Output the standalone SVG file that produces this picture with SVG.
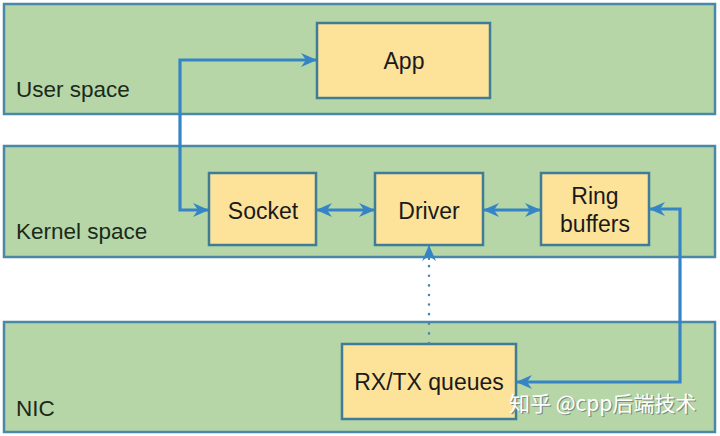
<svg xmlns="http://www.w3.org/2000/svg" width="720" height="436" viewBox="0 0 720 436">
<defs>
<style>
.band{fill:#b6d6a8;stroke:#4b88a6;stroke-width:2.5}
.box{fill:#fde29a;stroke:#3f7d96;stroke-width:2.5}
.lbl{font-family:"Liberation Sans",Arial,sans-serif;font-size:22.5px;fill:#1a2a1a}
.txt{font-family:"Liberation Sans",Arial,sans-serif;font-size:23px;fill:#1a1a1a;text-anchor:middle}
.con{fill:none;stroke:#3585c6;stroke-width:3.2}
.dot{fill:none;stroke:#4a88a8;stroke-width:2.5;stroke-dasharray:0.1 9.5;stroke-linecap:round}
.wm{font-family:"Noto Sans CJK SC","Liberation Sans",sans-serif;font-size:21px;fill:#ffffff}
</style>
<marker id="ah" viewBox="0 0 16 14" refX="15" refY="7" markerWidth="16" markerHeight="14" markerUnits="userSpaceOnUse" orient="auto-start-reverse">
<path d="M0,0 L16,7 L0,14 L5,7 z" fill="#3585c6"/>
</marker>
</defs>
<g id="user-space">
<rect class="band" x="4" y="4" width="711" height="110"/>
<text class="lbl" x="16" y="97">User space</text>
</g>
<g id="kernel-space">
<rect class="band" x="4" y="146" width="711" height="111"/>
<text class="lbl" x="16" y="239">Kernel space</text>
</g>
<g id="nic">
<rect class="band" x="4" y="322" width="711" height="110"/>
<text class="lbl" x="16" y="416">NIC</text>
</g>
<g id="app">
<rect class="box" x="317" y="23" width="173" height="75"/>
<text class="txt" x="404" y="69">App</text>
</g>
<g id="socket">
<rect class="box" x="209" y="173" width="107" height="72"/>
<text class="txt" x="263" y="219">Socket</text>
</g>
<g id="driver">
<rect class="box" x="375" y="173" width="108" height="72"/>
<text class="txt" x="429" y="219">Driver</text>
</g>
<g id="ring-buffers">
<rect class="box" x="541" y="173" width="108" height="72"/>
<text class="txt" x="595" y="204">Ring</text>
<text class="txt" x="595" y="232">buffers</text>
</g>
<g id="rxtx-queues">
<rect class="box" x="342" y="344" width="174" height="75"/>
<text class="txt" x="429" y="390">RX/TX queues</text>
</g>
<g id="connectors">
<path class="con" d="M208,210 H180 V60 H316" marker-start="url(#ah)" marker-end="url(#ah)"/>
<path class="con" d="M317,210 H374" marker-start="url(#ah)" marker-end="url(#ah)"/>
<path class="con" d="M484,210 H540" marker-start="url(#ah)" marker-end="url(#ah)"/>
<path class="con" d="M650,209 H680 V382 H517" marker-start="url(#ah)" marker-end="url(#ah)"/>
<path class="dot" d="M429,343 V262"/>
<path class="con" d="M429,260 V246" marker-end="url(#ah)" style="stroke-width:2"/>
</g>
<g id="watermark">
<text class="wm" x="509" y="411" style="fill:#7f8f7f" dx="1.2" dy="1.2">知乎 @cpp后端技术</text>
<text class="wm" x="509" y="411">知乎 @cpp后端技术</text>
</g>
</svg>
